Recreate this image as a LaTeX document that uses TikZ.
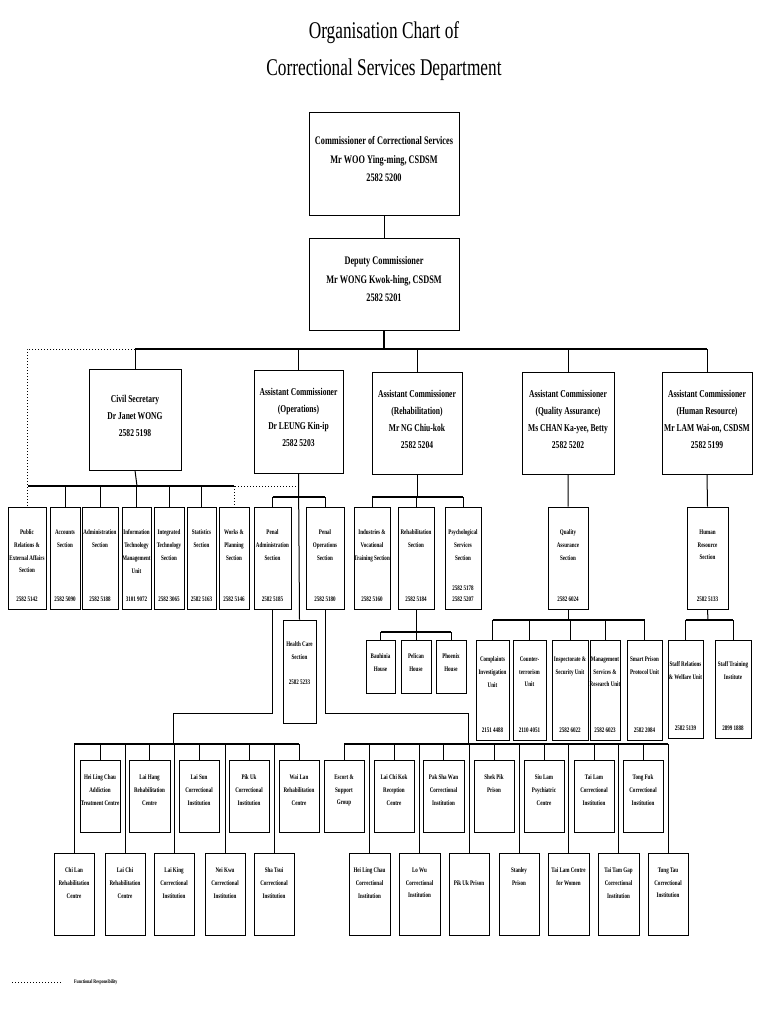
\documentclass[tikz,border=0pt]{standalone}
\usepackage{fontspec}
\setmainfont{Liberation Serif}[FakeStretch=0.72]
\usetikzlibrary{fit,calc}
\tikzset{
 box/.style={draw,line width=1pt,inner sep=0pt,fill=white},
 txt/.style={font=\bfseries,align=center,inner sep=0pt,anchor=north},
 big/.style={txt,font=\fontsize{11.5}{18.5}\selectfont\bfseries},
 mid/.style={txt,font=\fontsize{10.5}{17}\selectfont\bfseries},
 sm/.style={txt,font=\fontsize{7}{12.8}\selectfont\bfseries},
 ph/.style={inner sep=0pt,font=\fontsize{7}{8}\selectfont\bfseries,align=center,anchor=south},
 ln/.style={line width=1pt},
 bus/.style={line width=1.8pt},
 fr/.style={line width=1pt,dotted}
}
% name, x1,y1,x2,y2, text offset, style, text, phone
\newcommand\bx[9]{%
 \node[box,fit={(#2,#3)(#4,#5)}] (#1) {};
 \node[#7] (#1t) at ($(#1.north)+(0,#6)$) {#8};
 \node[ph] (#1p) at ($(#1.south)+(0,-8)$) {#9};}
\begin{document}
\begin{tikzpicture}[x=1pt,y=-1pt]
\useasboundingbox (0,0) rectangle (768,1024);
\node[font=\fontsize{24}{37}\selectfont,align=center,anchor=north] (title) at (384,18) {Organisation Chart of\\Correctional Services Department};
% top
\bx{comm}{309}{113}{459}{216}{24}{big}{Commissioner of Correctional Services\\Mr WOO Ying-ming, CSDSM\\2582 5200}{}
\bx{dep}{309}{238}{459}{330}{19}{big}{Deputy Commissioner\\Mr WONG Kwok-hing, CSDSM\\2582 5201}{}
\draw[ln] (comm.south) -- (dep.north);
% level 2
\bx{cs}{89}{369}{181}{470}{27}{mid}{Civil Secretary\\Dr Janet WONG\\2582 5198}{}
\bx{ops}{254}{370}{343}{473}{19}{mid}{Assistant Commissioner\\(Operations)\\Dr LEUNG Kin-ip\\2582 5203}{}
\bx{reh}{372}{372}{462}{474}{19}{mid}{Assistant Commissioner\\(Rehabilitation)\\Mr NG Chiu-kok\\2582 5204}{}
\bx{qa}{522}{372}{614}{474}{19}{mid}{Assistant Commissioner\\(Quality Assurance)\\Ms CHAN Ka-yee, Betty\\2582 5202}{}
\bx{hr}{662}{372}{752}{474}{19}{mid}{Assistant Commissioner\\(Human Resource)\\Mr LAM Wai-on, CSDSM\\2582 5199}{}
\coordinate (tb) at (384,349);
\draw[bus] (cs.north|-tb) -- (hr.north|-tb);
\draw[bus] (dep.south) -- (tb);
\foreach \n in {cs,ops,reh,qa,hr} \draw[ln] (\n.north|-tb) -- (\n.north);
% level 3
\bx{pr}{8}{507}{46}{609}{23}{sm}{Public\\Relations \&\\External Affairs\\Section}{2582 5142}
\bx{acc}{50}{507}{80}{609}{23}{sm}{Accounts\\Section}{2582 5090}
\bx{adm}{82}{507}{118}{609}{23}{sm}{Administration\\Section}{2582 5188}
\bx{itm}{122}{507}{151}{609}{23}{sm}{Information\\Technology\\Management\\Unit}{3101 9072}
\bx{its}{154}{507}{184}{609}{23}{sm}{Integrated\\Technology\\Section}{2582 3065}
\bx{sta}{187}{507}{216}{609}{23}{sm}{Statistics\\Section}{2582 5163}
\bx{wks}{219}{507}{249}{609}{23}{sm}{Works \&\\Planning\\Section}{2582 5146}
\bx{pad}{254}{507}{291}{609}{23}{sm}{Penal\\Administration\\Section}{2582 5185}
\bx{pop}{306}{507}{344}{609}{23}{sm}{Penal\\Operations\\Section}{2582 5180}
\bx{ind}{354}{507}{390}{609}{23}{sm}{Industries \&\\Vocational\\Training Section}{2582 5160}
\bx{rhs}{398}{507}{434}{609}{23}{sm}{Rehabilitation\\Section}{2582 5184}
\bx{psy}{445}{507}{481}{609}{23}{sm}{Psychological\\Services\\Section}{2582 5178\\[3pt]2582 5207}
\bx{qas}{548}{507}{588}{609}{23}{sm}{Quality\\Assurance\\Section}{2582 6024}
\bx{hrs}{687}{507}{728}{609}{23}{sm}{Human\\Resource\\Section}{2582 5133}
\bx{hcs}{283}{620}{316}{723}{22}{sm}{Health Care\\Section\\[12pt]2582 5233}{}
% CS connectors
\coordinate (csb) at (137,486);
\draw[ln] (cs.south) -- (csb);
\draw[bus] (28,486) -- (wks.north|-csb);
\foreach \n in {acc,adm,itm,its,sta} \draw[ln] (\n.north|-csb) -- (\n.north);
\draw[fr] (wks.north|-csb) -- (wks.north);
\draw[fr] (ops.south|-csb) -- (wks.north|-csb);
\draw[fr] (cs.north|-tb) -- (pr.north|-tb) -- (pr.north);
% Ops
\coordinate (ob) at (299,497);
\draw[ln] (ops.south) -- (hcs.north);
\draw[bus] (pad.north|-ob) -- (pop.north|-ob);
\draw[ln] (pad.north|-ob) -- (pad.north) (pop.north|-ob) -- (pop.north);
% Rehab
\coordinate (rb) at (417,497);
\draw[ln] (reh.south) -- (rb);
\draw[bus] (ind.north|-rb) -- (psy.north|-rb);
\foreach \n in {ind,rhs,psy} \draw[ln] (\n.north|-rb) -- (\n.north);
\draw[ln] (qa.south) -- (qas.north) (hr.south) -- (hrs.north);
% houses
\bx{bau}{366}{640}{395}{693}{14}{sm}{Bauhinia\\House}{}
\bx{pel}{401}{640}{431}{693}{14}{sm}{Pelican\\House}{}
\bx{pho}{436}{640}{466}{693}{14}{sm}{Phoenix\\House}{}
\coordinate (hb) at (416,632);
\draw[ln] (rhs.south) -- (hb);
\draw[bus] (bau.north|-hb) -- (pho.north|-hb);
\foreach \n in {bau,pel,pho} \draw[ln] (\n.north|-hb) -- (\n.north);
% QA units
\bx{civ}{476}{640}{509}{740}{17}{sm}{Complaints\\Investigation\\Unit}{2151 4488}
\bx{ctu}{513}{640}{546}{740}{17}{sm}{Counter-\\terrorism\\Unit}{2110 4051}
\bx{isu}{552}{640}{588}{740}{17}{sm}{Inspectorate \&\\Security Unit}{2582 6022}
\bx{msr}{590}{640}{620}{740}{17}{sm}{Management\\Services \&\\Research Unit}{2582 6023}
\bx{spp}{627}{640}{662}{740}{17}{sm}{Smart Prison\\Protocol Unit}{2582 2084}
\coordinate (qb) at (568,620);
\draw[ln] (qas.south) -- (qb);
\draw[bus] (civ.north|-qb) -- (spp.north|-qb);
\foreach \n in {civ,ctu,isu,msr,spp} \draw[ln] (\n.north|-qb) -- (\n.north);
\bx{srw}{668}{640}{703}{738}{22}{sm}{Staff Relations\\\& Welfare Unit}{2582 5139}
\bx{sti}{715}{640}{751}{738}{22}{sm}{Staff Training\\Institute}{2899 1888}
\coordinate (hb2) at (708,620);
\draw[ln] (hrs.south) -- (hb2);
\draw[bus] (srw.north|-hb2) -- (sti.north|-hb2);
\draw[ln] (srw.north|-hb2) -- (srw.north) (sti.north|-hb2) -- (sti.north);
% institutions left
\bx{hla}{80}{760}{120}{832}{15}{sm}{Hei Ling Chau\\Addiction\\Treatment Centre}{}
\bx{lhr}{129}{760}{170}{832}{15}{sm}{Lai Hang\\Rehabilitation\\Centre}{}
\bx{lsc}{179}{760}{219}{832}{15}{sm}{Lai Sun\\Correctional\\Institution}{}
\bx{puc}{229}{760}{269}{832}{15}{sm}{Pik Uk\\Correctional\\Institution}{}
\bx{wlr}{279}{760}{319}{832}{15}{sm}{Wai Lan\\Rehabilitation\\Centre}{}
\bx{clr}{54}{853}{94}{935}{15}{sm}{Chi Lan\\Rehabilitation\\Centre}{}
\bx{lcr}{105}{853}{145}{935}{15}{sm}{Lai Chi\\Rehabilitation\\Centre}{}
\bx{lkc}{154}{853}{194}{935}{15}{sm}{Lai King\\Correctional\\Institution}{}
\bx{nkc}{205}{853}{245}{935}{15}{sm}{Nei Kwu\\Correctional\\Institution}{}
\bx{stc}{254}{853}{294}{935}{15}{sm}{Sha Tsui\\Correctional\\Institution}{}
\coordinate (lb) at (173,744);
\draw[ln] (pad.south) |- (173,713) -- (lb);
\draw[bus] (clr.north|-lb) -- (wlr.north|-lb);
\foreach \n in {hla,lhr,lsc,puc,wlr,clr,lcr,lkc,nkc,stc} \draw[ln] (\n.north|-lb) -- (\n.north);
% institutions right
\bx{esg}{324}{760}{364}{832}{15}{sm}{Escort \&\\Support\\Group}{}
\bx{lck}{374}{760}{414}{832}{15}{sm}{Lai Chi Kok\\Reception\\Centre}{}
\bx{psw}{423}{760}{464}{832}{15}{sm}{Pak Sha Wan\\Correctional\\Institution}{}
\bx{skp}{474}{760}{514}{832}{15}{sm}{Shek Pik\\Prison}{}
\bx{slp}{524}{760}{564}{832}{15}{sm}{Siu Lam\\Psychiatric\\Centre}{}
\bx{tlc}{574}{760}{614}{832}{15}{sm}{Tai Lam\\Correctional\\Institution}{}
\bx{tfc}{623}{760}{663}{832}{15}{sm}{Tong Fuk\\Correctional\\Institution}{}
\bx{hlc}{349}{853}{390}{935}{15}{sm}{Hei Ling Chau\\Correctional\\Institution}{}
\bx{lwc}{399}{853}{440}{935}{15}{sm}{Lo Wu\\Correctional\\Institution}{}
\bx{pup}{449}{853}{489}{935}{28}{sm}{Pik Uk Prison}{}
\bx{stp}{499}{853}{539}{935}{15}{sm}{Stanley\\Prison}{}
\bx{tlw}{548}{853}{589}{935}{15}{sm}{Tai Lam Centre\\for Women}{}
\bx{ttg}{598}{853}{639}{935}{15}{sm}{Tai Tam Gap\\Correctional\\Institution}{}
\bx{ttc}{648}{853}{688}{935}{15}{sm}{Tung Tau\\Correctional\\Institution}{}
\coordinate (rb2) at (468,744);
\draw[ln] (pop.south) |- (468,713) -- (rb2);
\draw[bus] (esg.north|-rb2) -- (ttc.north|-rb2);
\foreach \n in {esg,lck,psw,skp,slp,tlc,tfc,hlc,lwc,pup,stp,tlw,ttg,ttc} \draw[ln] (\n.north|-rb2) -- (\n.north);
% legend
\coordinate (la) at (12,982); \coordinate (lz) at (62,982);
\draw[fr] (la) -- (lz);
\node[anchor=west,inner sep=0pt,font=\fontsize{5.5}{6}\selectfont\bfseries] (leg) at (74,982) {Functional Responsibility};
\end{tikzpicture}
\end{document}
